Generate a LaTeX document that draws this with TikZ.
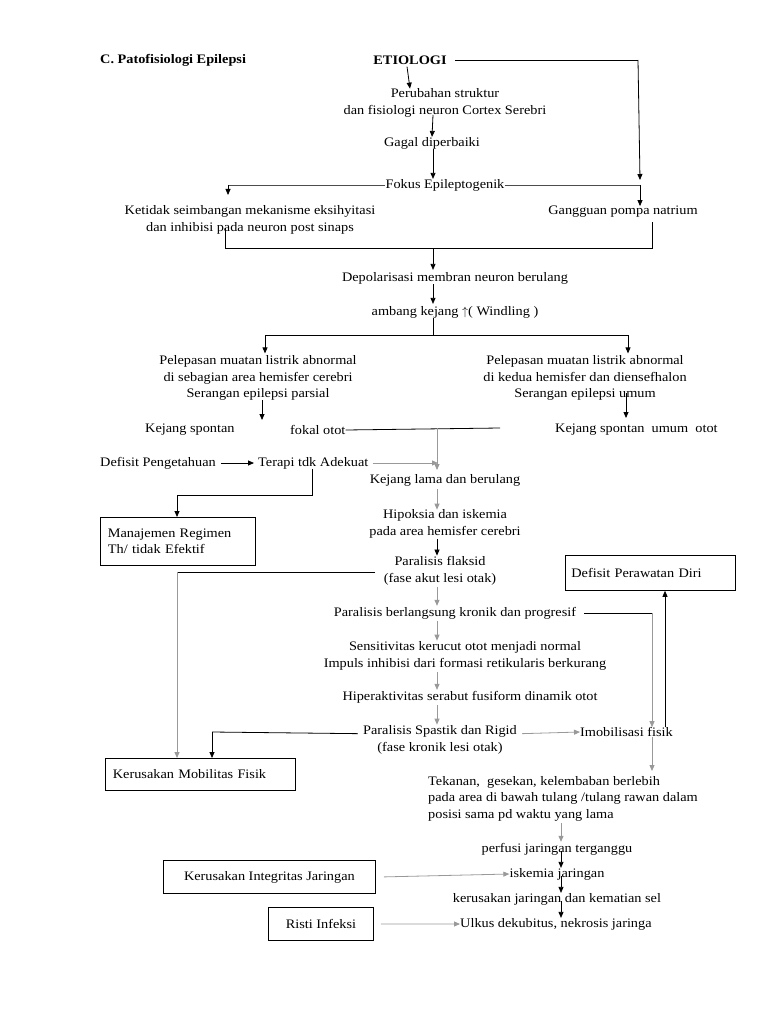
\documentclass[tikz,border=0pt]{standalone}
\usepackage{fontspec}
\setmainfont{Liberation Serif}[FakeStretch=1.1]
\usetikzlibrary{arrows.meta,calc}
\begin{document}
\begin{tikzpicture}[x=1pt,y=-1pt,
  txt/.style={inner sep=0pt,align=center,font=\fontsize{13}{16.5}\selectfont},
  box/.style={draw,thick,inner sep=0pt,font=\fontsize{13}{16.5}\selectfont},
  ar/.style={-{Triangle[length=6pt,width=5pt]},line width=0.8pt},
  ln/.style={line width=0.8pt},
  gr/.style={draw=black!40}]
\useasboundingbox (0,0) rectangle (768,1024);
% texts
\node[txt,font=\fontsize{13}{16}\selectfont\bfseries,anchor=west] (title) at (100,60) {C. Patofisiologi Epilepsi};
\node[txt,font=\fontsize{13}{16}\selectfont\bfseries] (etio) at (410,60) {ETIOLOGI};
\node[txt] (perub) at (445,103) {Perubahan struktur\\dan fisiologi neuron Cortex Serebri};
\node[txt] (gagal) at (432,143) {Gagal diperbaiki};
\node[txt] (fokus) at (445,185) {Fokus Epileptogenik};
\node[txt] (ketid) at (250,220) {Ketidak seimbangan mekanisme eksihyitasi\\dan inhibisi pada neuron post sinaps};
\node[txt] (gang) at (623,212) {Gangguan pompa natrium};
\node[txt] (depol) at (455,278) {Depolarisasi membran neuron berulang};
\node[txt] (ambang) at (455,312) {ambang kejang $\uparrow$( Windling )};
\node[txt] (pelL) at (258,378) {Pelepasan muatan listrik abnormal\\di sebagian area hemisfer cerebri\\Serangan epilepsi parsial};
\node[txt] (pelR) at (585,378) {Pelepasan muatan listrik abnormal\\di kedua hemisfer dan diensefhalon\\Serangan epilepsi umum};
\node[txt,anchor=west] (kejL) at (145,430) {Kejang spontan};
\node[txt,anchor=west] (fokal) at (290,430) {fokal otot};
\node[txt,anchor=west] (kejR) at (555,430) {Kejang spontan\ \ umum\ \ otot};
\node[txt,anchor=west] (defp) at (100,463) {Defisit Pengetahuan};
\node[txt,anchor=west] (terapi) at (258,463) {Terapi tdk Adekuat};
\node[txt] (kejlama) at (445,480) {Kejang lama dan berulang};
\node[txt] (hipok) at (445,524) {Hipoksia dan iskemia\\pada area hemisfer cerebri};
\node[txt] (flak) at (440,571) {Paralisis flaksid\\(fase akut lesi otak)};
\node[txt] (kron) at (455,613) {Paralisis berlangsung kronik dan progresif};
\node[txt] (sens) at (465,656) {Sensitivitas kerucut otot menjadi normal\\Impuls inhibisi dari formasi retikularis berkurang};
\node[txt] (hiper) at (470,697) {Hiperaktivitas serabut fusiform dinamik otot};
\node[txt] (spas) at (440,740) {Paralisis Spastik dan Rigid\\(fase kronik lesi otak)};
\node[txt,anchor=west] (imob) at (580,732) {Imobilisasi fisik};
\node[txt,anchor=north west,align=left] (tek) at (428,776) {Tekanan,\ \ gesekan, kelembaban berlebih\\pada area di bawah tulang /tulang rawan dalam\\posisi sama pd waktu yang lama};
\node[txt] (perf) at (557,849) {perfusi jaringan terganggu};
\node[txt] (isk) at (557,874) {iskemia jaringan};
\node[txt] (kerj) at (557,899) {kerusakan jaringan dan kematian sel};
\node[txt,anchor=west] (ulkus) at (460,924) {Ulkus dekubitus, nekrosis jaringa};
% boxes
\node[box,anchor=north west,minimum width=155pt,minimum height=48pt,align=left,text width=140pt] (manaj) at (100,517) {Manajemen Regimen\\Th/ tidak Efektif};
\node[box,anchor=north west,minimum width=190pt,minimum height=32pt,align=left,text width=175pt] (mob) at (105,758) {Kerusakan Mobilitas Fisik};
\node[box,anchor=north west,minimum width=170pt,minimum height=35pt,align=left,text width=158pt] (rawat) at (565,555) {Defisit Perawatan Diri};
\node[box,anchor=north west,minimum width=212pt,minimum height=33pt] (integ) at (163,860) {Kerusakan Integritas Jaringan};
\node[box,anchor=north west,minimum width=105pt,minimum height=33pt] (risti) at (268,907) {Risti Infeksi};
% coordinates
\coordinate (e1) at (638,60);
\coordinate (fl) at (228,185);
\coordinate (fr) at (640,185);
\coordinate (jl) at (225,248);
\coordinate (jr) at (652,248);
\coordinate (jm) at (433,248);
\coordinate (sl) at (265,335);
\coordinate (sr) at (628,335);
\coordinate (sm) at (433,335);
\coordinate (fk) at (500,428);
\coordinate (fm) at (437,428);
\coordinate (tm) at (312,495);
\coordinate (ml) at (177,495);
\coordinate (pl) at (177,572);
\coordinate (kr) at (652,613);
\coordinate (sp) at (212,732);
% connectors
\draw[ln] (etio.east)++(8,0) -- (e1);
\draw[ar] (e1) -- ($(fr)+(0,-5)$);
\draw[ar] (etio.south)++(-3,2) -- (perub.north-|etio.south);
\draw[ar] (gagal.north)++(1,-22) -- (gagal.north);
\draw[ar] (gagal.south)++(1,0) -- ($(fokus.north)+(-12,0)$);
\draw[ln,draw=black!70] (fokus.west) -- (fl);
\draw[ar] (fl) -- ($(fl)+(0,10)$);
\draw[ln,draw=black!70] (fokus.east) -- (fr);
\draw[ar] (fr) -- (gang.north-|fr);
\draw[ln] (225,228) -- (jl) -- (jr) -- (652,222);
\draw[ar] (jm) -- ($(depol.north)+(-22,-2)$);
\draw[ar] (depol.south)++(-22,0) -- ($(ambang.north)+(-22,-2)$);
\draw[ln] (ambang.south)++(-22,0) -- (sm);
\draw[ln] (sl) -- (sr);
\draw[ar] (sl) -- ($(pelL.north)+(7,-2)$);
\draw[ar] (sr) -- ($(pelR.north)+(43,-2)$);
\draw[ar] (262,400) -- (262,420);
\draw[ar] (626,393) -- (626,418);
\draw[ln] (fokal.east) -- (fk);
\draw[ar,gr] (fm) -- (437,470);
\draw[ar] (defp.east)++(5,0) -- ($(terapi.west)+(-4,0)$);
\draw[ar,gr] (terapi.east)++(4,0) -- (438,463);
\draw[ln] (terapi.south-|tm) -- (tm) -- (ml);
\draw[ar] (ml) -- (manaj.north-|ml);
\draw[ar,gr] (kejlama.south)++(-8,3) -- ($(hipok.north)+(-8,0)$);
\draw[ar] (hipok.south)++(-8,1) -- ($(flak.north)+(-3,-1)$);
\draw[ln] (375,572) -- (pl);
\draw[ar,gr] (pl) -- (mob.north-|pl);
\draw[ar,gr] (flak.south)++(-3,2) -- ($(kron.north)+(-18,-1)$);
\draw[ln] (kron.east)++(8,0) -- (kr);
\draw[ar,gr] (kr) -- (imob.north-|kr);
\draw[ar] (imob.north-|665,0) -- (rawat.south-|665,0);
\draw[ar,gr] (kron.south)++(-18,2) -- ($(sens.north)+(-28,-1)$);
\draw[ar,gr] (sens.south)++(-28,2) -- ($(hiper.north)+(-33,-1)$);
\draw[ar,gr] (hiper.south)++(-33,2) -- ($(spas.north)+(-3,-1)$);
\draw[ln] (spas.north west)++(-5,8) -- (sp);
\draw[ar] (sp) -- (mob.north-|sp);
\draw[ar,gr] (spas.north east)++(5,8) -- (imob.west);
\draw[ar,gr] (imob.south-|kr) -- ($(tek.north west)+(224,-5)$);
\draw[ar,gr] (tek.south west)++(133,2) -- ($(perf.north)+(4,-1)$);
\draw[ar] (perf.south)++(4,-4) -- ($(isk.north)+(4,0)$);
\draw[ar] (isk.south)++(4,-4) -- ($(kerj.north)+(4,0)$);
\draw[ar] (kerj.south)++(4,-4) -- ($(ulkus.north west)+(101,0)$);
\draw[ar,gr] (integ.east)++(8,0) -- (isk.west);
\draw[ar,gr] (risti.east)++(7,0) -- (ulkus.west);
\end{tikzpicture}
\end{document}
